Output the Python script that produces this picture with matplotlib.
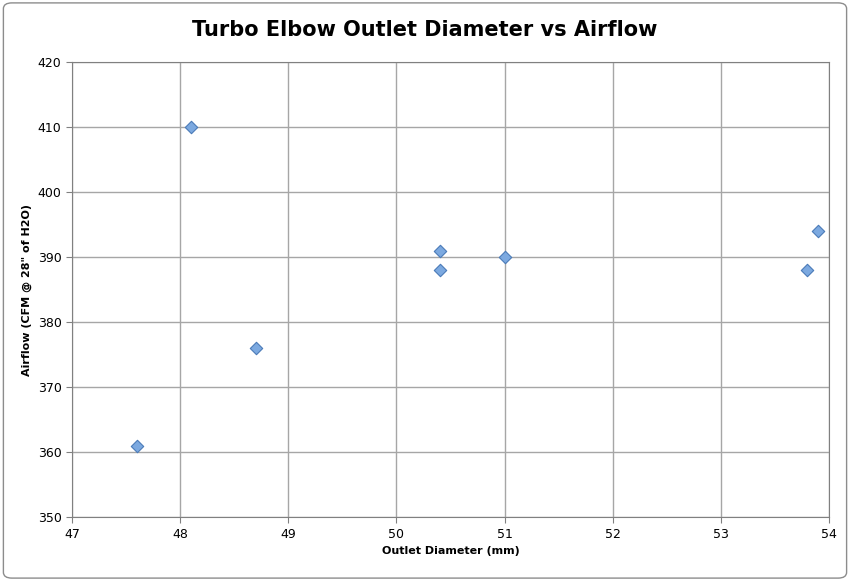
import matplotlib
matplotlib.use("Agg")
import matplotlib.pyplot as plt
from matplotlib.patches import FancyBboxPatch

diameter = [47.6, 48.1, 48.7, 50.4, 50.4, 51.0, 53.8, 53.9]
airflow = [361, 410, 376, 391, 388, 390, 388, 394]

fig = plt.figure(figsize=(8.5, 5.81), dpi=100)
fig.patches.append(FancyBboxPatch((0.004, 0.005), 0.992, 0.99, boxstyle="round,pad=0,rounding_size=0.01",
                                  transform=fig.transFigure, fill=False, edgecolor="#8c8c8c", lw=1))
ax = fig.add_axes([0.0847, 0.110, 0.8906, 0.783])
ax.scatter(diameter, airflow, marker="D", s=40, color="#7ca9e0", edgecolor="#4a7ab8", linewidth=0.8, zorder=3)
ax.set_xlim(47, 54)
ax.set_ylim(350, 420)
ax.set_xticks(range(47, 55))
ax.set_yticks(range(350, 421, 10))
ax.grid(True, color="#a6a6a6", lw=1)
ax.set_axisbelow(True)
for s in ax.spines.values():
    s.set_color("#808080")
ax.tick_params(labelsize=9, length=4, color="#808080")
ax.set_xlabel("Outlet Diameter (mm)", fontsize=8, fontweight="bold")
ax.set_ylabel('Airflow (CFM @ 28" of H2O)', fontsize=8, fontweight="bold")
fig.suptitle("Turbo Elbow Outlet Diameter vs Airflow", y=0.965, fontsize=15, fontweight="bold")
fig.savefig("out.png", dpi=100)
